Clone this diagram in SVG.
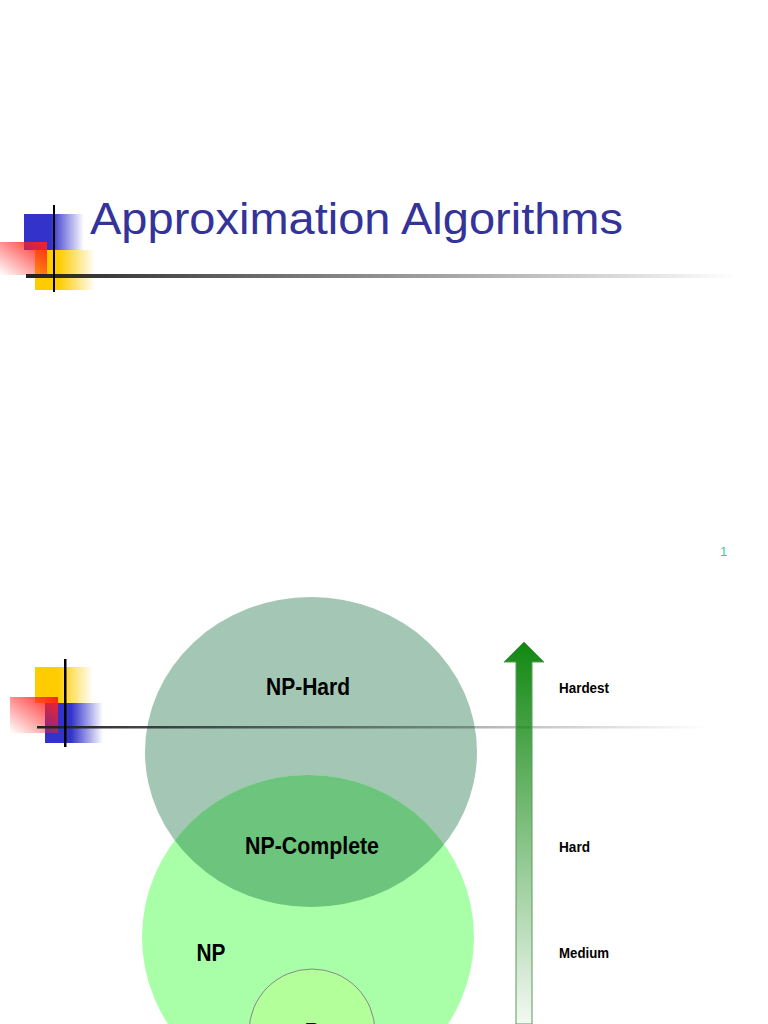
<svg xmlns="http://www.w3.org/2000/svg" width="768" height="1024" viewBox="0 0 768 1024">
<defs>
<linearGradient id="bl" x1="0" x2="1"><stop offset="0.45" stop-color="#3333cc"/><stop offset="1" stop-color="#3333cc" stop-opacity="0"/></linearGradient>
<linearGradient id="ye" x1="0" x2="1"><stop offset="0.4" stop-color="#ffcc00"/><stop offset="1" stop-color="#ffcc00" stop-opacity="0"/></linearGradient>
<linearGradient id="re" x1="1" y1="0" x2="0" y2="1"><stop offset="0" stop-color="#ff2020"/><stop offset="1" stop-color="#ff2020" stop-opacity="0"/></linearGradient>
<linearGradient id="ln" x1="0" x2="1"><stop offset="0" stop-color="#222"/><stop offset="1" stop-color="#222" stop-opacity="0"/></linearGradient>
<linearGradient id="ar" x1="0" y1="0" x2="0" y2="1"><stop offset="0" stop-color="#118811"/><stop offset="1" stop-color="#118811" stop-opacity="0.05"/></linearGradient>
<style>
.t{font-family:"Liberation Sans",Arial,sans-serif;font-weight:bold;fill:#000}
.s{font-family:"Liberation Sans",Arial,sans-serif;font-weight:bold;font-size:15px;fill:#000}
</style>
<clipPath id="c"><ellipse cx="311" cy="752" rx="166" ry="155"/></clipPath>
</defs>
<rect width="768" height="1024" fill="#fff"/>
<g id="deco1">
<rect x="24" y="214" width="60" height="36" fill="url(#bl)"/>
<rect x="35" y="250" width="60" height="40" fill="url(#ye)"/>
<rect x="0" y="242" width="47" height="33" fill="url(#re)"/>
<rect x="26" y="274" width="710" height="4" fill="url(#ln)"/>
<rect x="53" y="205" width="2" height="87" fill="#000"/>
</g>
<text x="90" y="234" font-family="Liberation Sans,Arial,sans-serif" font-size="44" fill="#333399" textLength="533" lengthAdjust="spacingAndGlyphs">Approximation Algorithms</text>
<text x="720" y="556" font-family="Liberation Sans,Arial,sans-serif" font-size="13" fill="#33cc99">1</text>
<g id="deco2">
<rect x="35" y="667" width="58" height="36" fill="url(#ye)"/>
<rect x="45" y="703" width="58" height="40" fill="url(#bl)"/>
<rect x="10" y="697" width="48" height="36" fill="url(#re)"/>
</g>
<g id="np-hard"><ellipse cx="311" cy="752" rx="166" ry="155" fill="#a3c7b4"/></g>
<g id="np"><ellipse cx="308" cy="937" rx="166" ry="162" fill="#99ff99" fill-opacity="0.85"/></g>
<g id="np-complete"><ellipse cx="308" cy="937" rx="166" ry="162" fill="#6cc47d" clip-path="url(#c)"/></g>
<g id="p"><circle cx="312" cy="1032" r="63" fill="#b3ff99" stroke="#888" stroke-width="1"/>
<text class="t" x="312" y="1038" font-size="22" text-anchor="middle">P</text></g>
<rect x="37" y="726" width="670" height="2.5" fill="url(#ln)"/>
<rect x="64" y="659" width="2.5" height="88" fill="#000"/>
<text class="t" x="308" y="695" font-size="24" text-anchor="middle" textLength="84" lengthAdjust="spacingAndGlyphs">NP-Hard</text>
<text class="t" x="312" y="854" font-size="24" text-anchor="middle" textLength="134" lengthAdjust="spacingAndGlyphs">NP-Complete</text>
<text class="t" x="211" y="961" font-size="24" text-anchor="middle" textLength="29" lengthAdjust="spacingAndGlyphs">NP</text>
<g id="arrow"><path d="M516 662 H504 L524 642 L544 662 H532 V1024 H516 Z" fill="url(#ar)" stroke="#5a9a5a" stroke-width="1"/></g>
<text class="s" x="559" y="693" textLength="50" lengthAdjust="spacingAndGlyphs">Hardest</text>
<text class="s" x="559" y="852" textLength="31" lengthAdjust="spacingAndGlyphs">Hard</text>
<text class="s" x="559" y="958" textLength="50" lengthAdjust="spacingAndGlyphs">Medium</text>
</svg>
